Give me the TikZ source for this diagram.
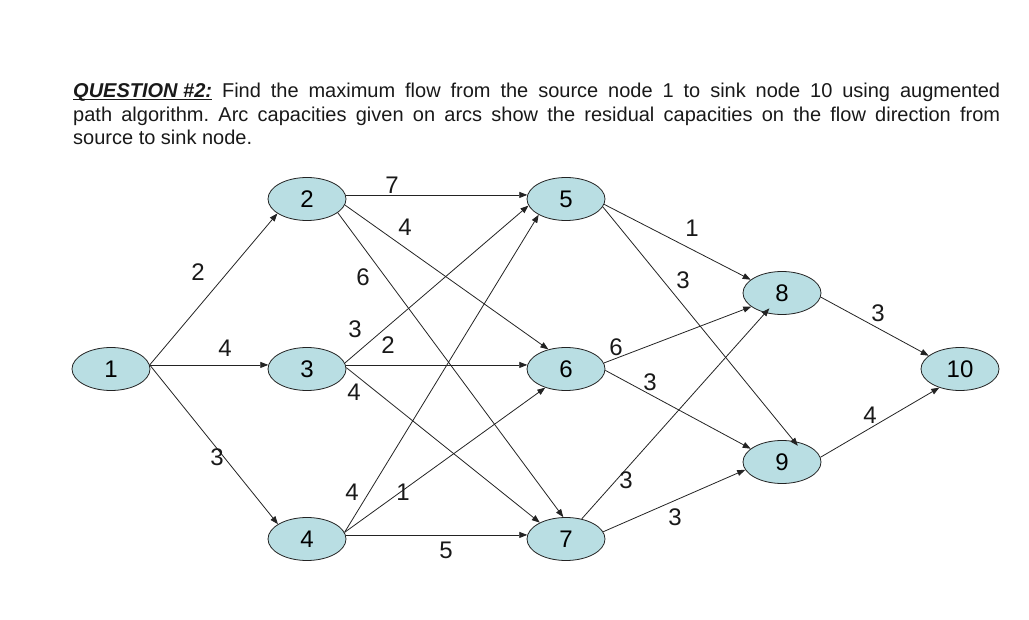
\documentclass[tikz,border=0pt]{standalone}
\usepackage{fontspec}
\setmainfont{Liberation Sans}
\usetikzlibrary{arrows.meta,shapes.geometric}
\definecolor{nodefill}{RGB}{185,222,227}
\definecolor{edgecol}{RGB}{35,35,35}
\newcommand\qunderline[1]{\setbox0\hbox{#1}\rlap{\rule[-2.4pt]{\wd0}{1.3pt}}\box0\relax}
\begin{document}
\frenchspacing
\begin{tikzpicture}[x=1pt,y=-1pt,
  vert/.style={ellipse, draw=edgecol, line width=0.8pt, fill=nodefill,
    minimum width=78pt, minimum height=43pt, inner sep=0pt,
    font=\fontsize{24}{24}\selectfont},
  arcline/.style={draw=edgecol, line width=0.8pt, -{Triangle[length=8pt,width=6pt]}},
  capnum/.style={font=\fontsize{24}{24}\selectfont, inner sep=0pt, text=black!90},
  titleline/.style={font=\fontsize{20}{23.5}\selectfont, anchor=base west, inner sep=0pt, text=black!90}]
\useasboundingbox (0,0) rectangle (1029,620);

% title
\node[titleline] (t1) at (73,98) {\makebox[927pt][s]{\qunderline{\textbf{\textit{QUESTION \#2:}}} Find the maximum flow from the source node 1 to sink node 10 using augmented}};
\node[titleline] (t2) at (73,121.5) {\makebox[927pt][s]{path algorithm. Arc capacities given on arcs show the residual capacities on the flow direction from}};
\node[titleline] (t3) at (73,145) {source to sink node.};

% nodes
\node[vert] (n1) at (111,369) {1};
\node[vert] (n2) at (307,199) {2};
\node[vert] (n3) at (307,369) {3};
\node[vert] (n4) at (307,539) {4};
\node[vert] (n5) at (566,199) {5};
\node[vert] (n6) at (566,369) {6};
\node[vert] (n7) at (566,539) {7};
\node[vert] (n8) at (782,293) {8};
\node[vert] (n9) at (782,462) {9};
\node[vert] (n10) at (960,369) {10};

% arcs
\draw[arcline] (n1.6) -- (n2.206);
\draw[arcline] (n1.6) -- (n3.174);
\draw[arcline] (n1.6) -- (n4.153);
\draw[arcline] (n2.6) -- (n5.174);
\draw[arcline] (n2.-9) -- (n6.132);
\draw[arcline] (n2.-24) -- (n7.97);
\draw[arcline] (n3.9) -- (n5.190);
\draw[arcline] (n3.6) -- (n6.174);
\draw[arcline] (n3.2) -- (n7.148);
\draw[arcline] (n4.10) -- (n5.210);
\draw[arcline] (n4.10) -- (n6.222);
\draw[arcline] (n4.6) -- (n7.174);
\draw[arcline] (n5.-8) -- (n8.157);
\draw[arcline, shorten >=-6pt] (n5.-12) -- (n9.60);
\draw[arcline] (n6.9) -- (n8.204);
\draw[arcline] (n6.-2) -- (n9.157);
\draw[arcline, shorten >=-6pt] (n7.52) -- (n8.230);
\draw[arcline] (n7.11) -- (n9.192);
\draw[arcline] (n8.-6) -- (n10.157);
\draw[arcline] (n9.7) -- (n10.222);

% capacities
\node[capnum] (c12) at (198,272) {2};
\node[capnum] (c13) at (225,348) {4};
\node[capnum] (c14) at (217,457) {3};
\node[capnum] (c25) at (392,185) {7};
\node[capnum] (c26) at (405,227) {4};
\node[capnum] (c27) at (363,277) {6};
\node[capnum] (c35) at (355,329) {3};
\node[capnum] (c36) at (388,345) {2};
\node[capnum] (c37) at (354,392) {4};
\node[capnum] (c45) at (352,492) {4};
\node[capnum] (c46) at (403,492) {1};
\node[capnum] (c47) at (446,550) {5};
\node[capnum] (c58) at (692,228) {1};
\node[capnum] (c59) at (683,280) {3};
\node[capnum] (c68) at (616,347) {6};
\node[capnum] (c69) at (650,382) {3};
\node[capnum] (c78) at (626,480) {3};
\node[capnum] (c79) at (675,517) {3};
\node[capnum] (c810) at (878,313) {3};
\node[capnum] (c910) at (870,415) {4};
\end{tikzpicture}
\end{document}
